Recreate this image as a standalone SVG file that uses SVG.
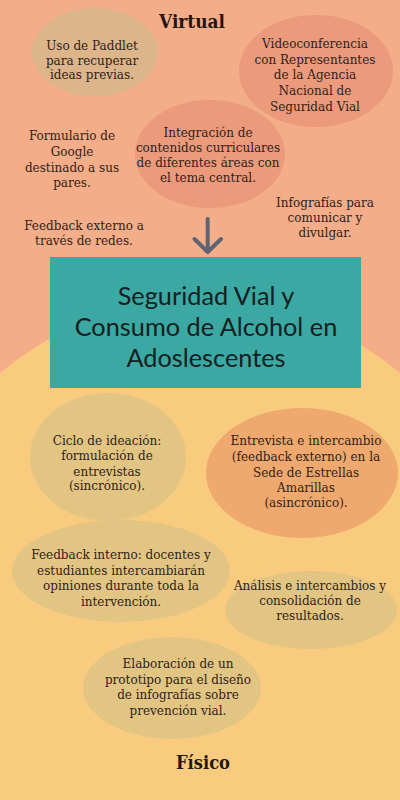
<svg xmlns="http://www.w3.org/2000/svg" width="400" height="800" viewBox="0 0 400 800">
<style>
.t{font-family:"DejaVu Serif","Liberation Serif",serif;font-size:12px;fill:#2e2219;text-anchor:middle}
.h{font-family:"DejaVu Serif","Liberation Serif",serif;font-size:19px;font-weight:bold;fill:#1e1712;text-anchor:middle}
.m{font-family:Lato,"Noto Sans",sans-serif;font-size:25.3px;fill:#152020;text-anchor:middle}
.tan{fill:#DDB58A}
.sal{fill:#EB9A7C}
.kh{fill:#E3C583}
.or{fill:#EFA96E}
</style>
<rect x="0" y="0" width="400" height="800" fill="#F3AD88"/>
<circle cx="200" cy="610" r="310" fill="#F9CB7F"/>
<text class="h" x="192" y="28" textLength="66" lengthAdjust="spacingAndGlyphs">Virtual</text>
<text class="h" x="203" y="769" textLength="54" lengthAdjust="spacingAndGlyphs">Físico</text>

<g id="paddlet">
<ellipse class="tan" cx="95" cy="52" rx="63" ry="44"/>
<text class="t" x="92" y="50">Uso de Paddlet</text>
<text class="t" x="92" y="65">para recuperar</text>
<text class="t" x="92" y="79">ideas previas.</text>
</g>
<g id="video">
<ellipse class="sal" cx="316" cy="71" rx="77" ry="56"/>
<text class="t" x="315" y="48">Videoconferencia</text>
<text class="t" x="315" y="64">con Representantes</text>
<text class="t" x="315" y="79">de la Agencia</text>
<text class="t" x="315" y="95">Nacional de</text>
<text class="t" x="315" y="111">Seguridad Vial</text>
</g>
<g id="formulario">
<text class="t" x="72" y="140">Formulario de</text>
<text class="t" x="72" y="156">Google</text>
<text class="t" x="72" y="172">destinado a sus</text>
<text class="t" x="72" y="187">pares.</text>
</g>
<g id="integracion">
<ellipse class="sal" cx="210" cy="154" rx="75" ry="54"/>
<text class="t" x="208" y="137">Integración de</text>
<text class="t" x="208" y="152">contenidos curriculares</text>
<text class="t" x="208" y="167">de diferentes áreas con</text>
<text class="t" x="208" y="182">el tema central.</text>
</g>
<g id="infografias">
<text class="t" x="325" y="207">Infografías para</text>
<text class="t" x="325" y="222">comunicar y</text>
<text class="t" x="325" y="237">divulgar.</text>
</g>
<g id="feedback-externo">
<text class="t" x="84" y="230">Feedback externo a</text>
<text class="t" x="84" y="245">través de redes.</text>
</g>
<g id="connectors">
<path d="M207.7 219 V251 M194.5 239 L207.7 252 L221 239" fill="none" stroke="#5E6470" stroke-width="4" stroke-linecap="round" stroke-linejoin="round"/>
</g>
<g id="central">
<rect x="50" y="257" width="311" height="131" fill="#3BA8A3"/>
<text class="m" x="206" y="305">Seguridad Vial y</text>
<text class="m" x="206" y="336">Consumo de Alcohol en</text>
<text class="m" x="206" y="367">Adoslescentes</text>
</g>
<g id="ciclo">
<ellipse class="kh" cx="108" cy="457" rx="78" ry="64"/>
<text class="t" x="107" y="445">Ciclo de ideación:</text>
<text class="t" x="107" y="460">formulación de</text>
<text class="t" x="107" y="476">entrevistas</text>
<text class="t" x="107" y="490">(sincrónico).</text>
</g>
<g id="entrevista">
<ellipse class="or" cx="302" cy="473" rx="96" ry="65"/>
<text class="t" x="306" y="445">Entrevista e intercambio</text>
<text class="t" x="306" y="461">(feedback externo) en la</text>
<text class="t" x="306" y="477">Sede de Estrellas</text>
<text class="t" x="306" y="492">Amarillas</text>
<text class="t" x="306" y="507">(asincrónico).</text>
</g>
<g id="feedback-interno">
<ellipse class="kh" cx="121" cy="571" rx="109" ry="51"/>
<text class="t" x="121" y="559">Feedback interno: docentes y</text>
<text class="t" x="121" y="575">estudiantes intercambiarán</text>
<text class="t" x="121" y="590">opiniones durante toda la</text>
<text class="t" x="121" y="606">intervención.</text>
</g>
<g id="analisis">
<ellipse class="kh" cx="311" cy="610" rx="86" ry="39"/>
<text class="t" x="310" y="590">Análisis e intercambios y</text>
<text class="t" x="310" y="605">consolidación de</text>
<text class="t" x="310" y="620">resultados.</text>
</g>
<g id="elaboracion">
<ellipse class="kh" cx="172" cy="688" rx="89" ry="51"/>
<text class="t" x="178" y="668">Elaboración de un</text>
<text class="t" x="178" y="684">prototipo para el diseño</text>
<text class="t" x="178" y="699">de infografías sobre</text>
<text class="t" x="178" y="715">prevención vial.</text>
</g>
</svg>
